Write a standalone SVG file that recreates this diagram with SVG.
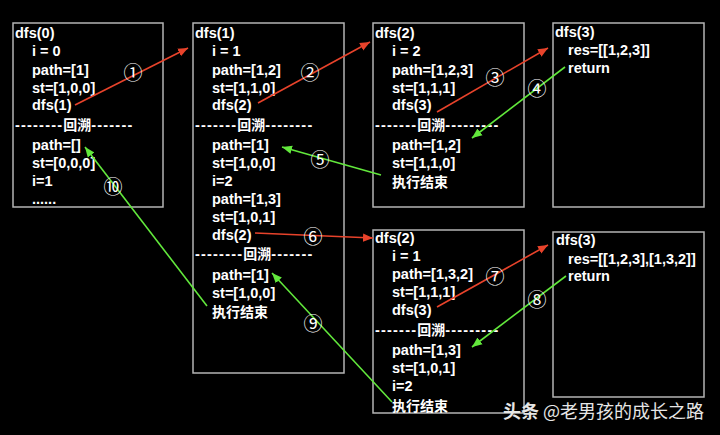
<svg xmlns="http://www.w3.org/2000/svg" width="720" height="435" viewBox="0 0 720 435">
<style>
.box{fill:none;stroke:#b4b4b4;stroke-width:1.5}
.t{font-family:"Liberation Sans","Noto Sans CJK SC",sans-serif;font-weight:bold;font-size:14.5px;fill:#fff}
.d{letter-spacing:1.2px}
.cj{font-family:"Noto Sans CJK SC",sans-serif;font-weight:bold;font-size:14px}
.r{stroke:#e8432b;stroke-width:1.6;fill:none;marker-end:url(#ar)}
.g{stroke:#62e83c;stroke-width:1.6;fill:none;marker-end:url(#ag)}
.n{font-family:"Noto Sans CJK SC",sans-serif;font-size:19px;fill:#fff;text-anchor:middle}
</style>
<defs>
<marker id="ar" markerUnits="userSpaceOnUse" markerWidth="12" markerHeight="10" refX="10" refY="5" orient="auto"><path d="M0,0.8 L10,5 L0,9.2 Z" fill="#e8432b"/></marker>
<marker id="ag" markerUnits="userSpaceOnUse" markerWidth="12" markerHeight="10" refX="10" refY="5" orient="auto"><path d="M0,0.8 L10,5 L0,9.2 Z" fill="#62e83c"/></marker>
</defs>
<rect width="720" height="435" fill="#000"/>

<g id="dfs0">
<rect class="box" x="13" y="23" width="150" height="184"/>
<text class="t" x="15" y="38">dfs(0)</text>
<text class="t" x="32" y="56">i = 0</text>
<text class="t" x="32" y="75">path=[1]</text>
<text class="t" x="32" y="93">st=[1,0,0]</text>
<text class="t" x="32" y="110">dfs(1)</text>
<text class="t" x="15" y="130"><tspan class="d">--------</tspan><tspan class="cj" font-size="14.5">回溯</tspan><tspan class="d">-------</tspan></text>
<text class="t" x="32" y="150">path=[]</text>
<text class="t" x="32" y="168">st=[0,0,0]</text>
<text class="t" x="32" y="186">i=1</text>
<text class="t" x="32" y="204">......</text>
</g>

<g id="dfs1">
<rect class="box" x="193" y="23" width="151" height="350"/>
<text class="t" x="195" y="38">dfs(1)</text>
<text class="t" x="212" y="56">i = 1</text>
<text class="t" x="212" y="75">path=[1,2]</text>
<text class="t" x="212" y="93">st=[1,1,0]</text>
<text class="t" x="212" y="110">dfs(2)</text>
<text class="t" x="195" y="130"><tspan class="d">-------</tspan><tspan class="cj">回溯</tspan><tspan class="d">--------</tspan></text>
<text class="t" x="212" y="150">path=[1]</text>
<text class="t" x="212" y="168">st=[1,0,0]</text>
<text class="t" x="212" y="186">i=2</text>
<text class="t" x="212" y="204">path=[1,3]</text>
<text class="t" x="212" y="222">st=[1,0,1]</text>
<text class="t" x="212" y="240">dfs(2)</text>
<text class="t" x="195" y="259"><tspan class="d">--------</tspan><tspan class="cj">回溯</tspan><tspan class="d">-------</tspan></text>
<text class="t" x="212" y="280">path=[1]</text>
<text class="t" x="212" y="298">st=[1,0,0]</text>
<text class="t cj" x="212" y="317">执行结束</text>
</g>

<g id="dfs2a">
<rect class="box" x="373" y="23" width="151" height="184"/>
<text class="t" x="375" y="38">dfs(2)</text>
<text class="t" x="392" y="56">i = 2</text>
<text class="t" x="392" y="75">path=[1,2,3]</text>
<text class="t" x="392" y="93">st=[1,1,1]</text>
<text class="t" x="392" y="110">dfs(3)</text>
<text class="t" x="375" y="130"><tspan class="d">-------</tspan><tspan class="cj">回溯</tspan><tspan class="d">---------</tspan></text>
<text class="t" x="392" y="150">path=[1,2]</text>
<text class="t" x="392" y="168">st=[1,1,0]</text>
<text class="t cj" x="392" y="187">执行结束</text>
</g>

<g id="dfs3a">
<rect class="box" x="553" y="23" width="151" height="184"/>
<text class="t" x="555" y="37">dfs(3)</text>
<text class="t" x="568" y="55">res=[[1,2,3]]</text>
<text class="t" x="568" y="73">return</text>
</g>

<g id="dfs2b">
<rect class="box" x="373" y="230" width="151" height="183"/>
<text class="t" x="375" y="243">dfs(2)</text>
<text class="t" x="392" y="261">i = 1</text>
<text class="t" x="392" y="279">path=[1,3,2]</text>
<text class="t" x="392" y="297">st=[1,1,1]</text>
<text class="t" x="392" y="315">dfs(3)</text>
<text class="t" x="375" y="335"><tspan class="d">-------</tspan><tspan class="cj">回溯</tspan><tspan class="d">---------</tspan></text>
<text class="t" x="392" y="355">path=[1,3]</text>
<text class="t" x="392" y="373">st=[1,0,1]</text>
<text class="t" x="392" y="391">i=2</text>
<text class="t cj" x="392" y="411">执行结束</text>
</g>

<g id="dfs3b">
<rect class="box" x="553" y="232" width="151" height="165"/>
<text class="t" x="556" y="245">dfs(3)</text>
<text class="t" x="568" y="264">res=[[1,2,3],[1,3,2]]</text>
<text class="t" x="568" y="281">return</text>
</g>

<g id="connectors">
<line class="r" x1="75" y1="105" x2="188" y2="48"/>
<line class="r" x1="258" y1="103" x2="370" y2="42"/>
<line class="r" x1="437" y1="112" x2="548" y2="48"/>
<line class="g" x1="565" y1="67" x2="472" y2="138"/>
<line class="g" x1="381" y1="175" x2="282" y2="147"/>
<line class="r" x1="255" y1="233" x2="373" y2="238"/>
<line class="r" x1="437" y1="307" x2="548" y2="245"/>
<line class="g" x1="566" y1="276" x2="472" y2="347"/>
<line class="g" x1="392" y1="402" x2="272" y2="273"/>
<line class="g" x1="207" y1="306" x2="85" y2="147"/>
<text class="n" x="133" y="80">①</text>
<text class="n" x="310" y="80">②</text>
<text class="n" x="495" y="85">③</text>
<text class="n" x="537" y="96">④</text>
<text class="n" x="320" y="167">⑤</text>
<text class="n" x="313" y="244">⑥</text>
<text class="n" x="495" y="284">⑦</text>
<text class="n" x="537" y="307">⑧</text>
<text class="n" x="313" y="331">⑨</text>
<text class="n" x="113" y="194">⑩</text>
</g>

<text x="503" y="418" font-family="Noto Sans CJK SC, sans-serif" font-size="18" fill="#e6e6e6"><tspan font-weight="bold">头条</tspan> @老男孩的成长之路</text>
</svg>
